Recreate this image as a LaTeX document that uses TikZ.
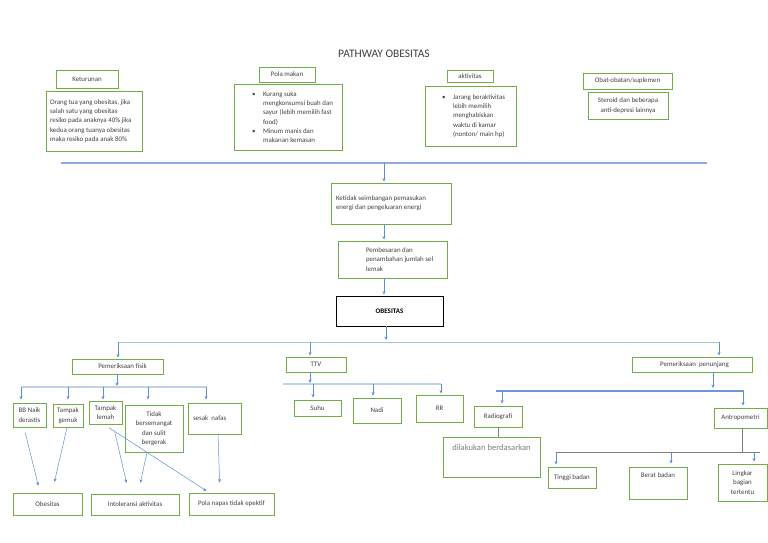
\documentclass[tikz,border=0pt]{standalone}
\usepackage{fontspec}
\setmainfont{Carlito}
\usetikzlibrary{arrows.meta}
\definecolor{gbord}{HTML}{70AD47}
\definecolor{txt}{HTML}{404040}
\definecolor{arrc}{HTML}{5B8FD6}
\definecolor{busl}{HTML}{8EAADB}
\definecolor{busp}{HTML}{A9C1E8}
\definecolor{busq}{HTML}{BDD0EE}
\definecolor{busd}{HTML}{6F94D8}
\definecolor{dgray}{HTML}{7F7F7F}
\newcommand{\bitem}{\par\hangindent=11pt\hangafter=1\noindent\makebox[11pt][l]{\textbullet}}
\begin{document}
\begin{tikzpicture}[x=1pt,y=-1pt,
  gbox/.style={draw=gbord,line width=0.9pt,rectangle,inner sep=0pt,text=txt,font=\fontsize{6.9}{9.5}\selectfont,align=center},
  lbox/.style={draw=gbord,line width=0.9pt,rectangle,inner sep=0pt,text=txt,font=\fontsize{6.9}{9.3}\selectfont},
  arr/.style={draw=arrc,line width=0.5pt,-{Stealth[length=3.5pt,width=3pt]}},
  thinl/.style={draw=dgray,line width=0.6pt}]
\fill[white] (0,0) rectangle (768,543);
\useasboundingbox (0,0) rectangle (768,543);

\node[text=txt,font=\fontsize{11.5}{13}\selectfont] (title) at (384,54) {PATHWAY OBESITAS};

% top row
\node[gbox,minimum width=62pt,minimum height=18pt] (ket) at (87,79) {Keturunan};
\node[lbox,minimum width=96pt,minimum height=60pt] (kett) at (94,121)
 {\makebox[96pt][l]{\hspace*{4pt}\parbox{91pt}{\raggedright Orang tua yang obesitas, jika\\ salah satu yang obesitas\\ resiko pada anaknya 40\% jika\\ kedua orang tuanya obesitas\\ maka resiko pada anak 80\%}}};

\node[gbox,minimum width=56pt,minimum height=15pt] (pola) at (287,74.5) {Pola makan};
\node[lbox,minimum width=108pt,minimum height=66pt] (polat) at (288,117)
 {\makebox[108pt][l]{\hspace*{18pt}\parbox{89pt}{\raggedright\bitem Kurang suka\newline mengkonsumsi buah dan\newline sayur (lebih memilih fast\newline food)\bitem Minum manis dan\newline makanan kemasan}}};

\node[gbox,minimum width=46pt,minimum height=12pt] (akt) at (470,76) {aktivitas};
\node[lbox,minimum width=91pt,minimum height=60pt] (aktt) at (470.5,116)
 {\makebox[91pt][l]{\hspace*{17pt}\parbox{73pt}{\raggedright\bitem Jarang beraktivitas\newline lebih memilih\newline menghabiskan\newline waktu di kamar\newline (nonton/ main hp)}}};

\node[gbox,minimum width=89pt,minimum height=16pt] (obat) at (627.5,81) {Obat-obatan/suplemen};
\node[gbox,minimum width=80pt,minimum height=27pt] (ster) at (628,105.5) {Steroid dan beberapa\\ anti-depresi lainnya};

% main bus
\coordinate (mbl) at (61,163);
\coordinate (mbr) at (707,163);
\draw[busl,line width=2pt] (mbl) -- (mbr);
\coordinate (m1) at (384,163);

% central chain
\node[lbox,minimum width=120pt,minimum height=41pt] (ketd) at (391,203.5)
 {\makebox[120pt][l]{\hspace*{5pt}\parbox{112pt}{\raggedright Ketidak seimbangan pemasukan\\ energi dan pengeluaran energi}}};
\node[lbox,minimum width=109pt,minimum height=37pt] (pemb) at (392.5,259.5)
 {\makebox[109pt][l]{\hspace*{28pt}\parbox{80pt}{\raggedright Pembesaran dan\\ penambahan jumlah sel\\ lemak}}};
\node[draw=black,line width=0.9pt,minimum width=107pt,minimum height=30pt,inner sep=0pt,font=\bfseries\fontsize{7}{8}\selectfont] (obes) at (389.5,311) {OBESITAS};

\draw[arr,shorten >=1pt] (m1) -- (m1 |- ketd.north);
\draw[arr,shorten >=1pt] (ketd.south -| m1) -- (pemb.north -| m1);
\draw[arr,shorten >=1pt] (pemb.south -| m1) -- (obes.north -| m1);
\coordinate (m2) at (386,342);
\draw[arr] (obes.south -| m2) -- ([yshift=2pt]m2);

% second bus
\coordinate (b2l) at (118,342);
\coordinate (b2t) at (310,342);
\coordinate (b2r) at (719,342);
\draw[busp,line width=0.8pt] (b2l) -- (b2r);

\node[gbox,minimum width=91pt,minimum height=15pt] (pemf) at (117.5,366.5) {\hspace*{10pt}Pemeriksaan fisik};
\node[gbox,minimum width=60pt,minimum height=15pt] (ttv) at (316,364.5) {TTV};
\node[gbox,minimum width=120pt,minimum height=15pt] (pemp) at (692,364.5) {\hspace*{5pt}Pemeriksaan\ \ penunjang};

\draw[arr,shorten >=1pt] (b2l) -- (b2l |- pemf.north);
\draw[arr,shorten >=1pt] (b2t) -- (b2t |- ttv.north);
\draw[arr,shorten >=1pt] (b2r) -- (b2r |- pemp.north);

% fisik branch
\coordinate (f0) at (117,387);
\draw[arr] (pemf.south -| f0) -- ([yshift=1pt]f0);
\coordinate (fbl) at (20.5,387);
\coordinate (fbr) at (206.5,387);
\draw[busq,line width=1.2pt] (fbl) -- (fbr);
\coordinate (f1) at (21,387);
\coordinate (f2) at (68,387);
\coordinate (f3) at (103,387);
\coordinate (f4) at (148,387);
\coordinate (f5) at (206,387);

\node[gbox,minimum width=33pt,minimum height=24pt] (bb) at (29.5,415) {BB Naik\\ derastis};
\node[gbox,minimum width=30pt,minimum height=23pt] (gem) at (68,415.5) {Tampak\\ gemuk};
\node[gbox,minimum width=33pt,minimum height=23pt] (lem) at (105.5,412.5) {Tampak\\ lemah};
\node[gbox,minimum width=58pt,minimum height=47pt] (tid) at (154,428.5) {Tidak\\ bersemangat\\ dan sulit\\ bergerak};
\node[lbox,minimum width=53pt,minimum height=31pt] (ses) at (214.5,418.5)
 {\makebox[53pt][l]{\hspace*{5pt}sesak\ \ nafas}};

\draw[arr,shorten >=3pt] (f1) -- (f1 |- bb.north);
\draw[arr,shorten >=4pt] (f2) -- (f2 |- gem.north);
\draw[arr,shorten >=1pt] (f3) -- (f3 |- lem.north);
\draw[arr,shorten >=5pt] (f4) -- (f4 |- tid.north);
\draw[arr,shorten >=3pt] (f5) -- (f5 |- ses.north);

\node[gbox,minimum width=69pt,minimum height=22pt] (obk) at (47.5,504) {Obesitas};
\node[gbox,minimum width=88pt,minimum height=21pt] (int) at (135,504.5) {Intoleransi aktivitas};
\node[gbox,minimum width=85pt,minimum height=22pt] (pnp) at (231.5,504) {Pola napas tidak epektif};

\draw[arr,shorten <=5pt,shorten >=7pt] ([xshift=-5.5pt]bb.south) -- ([xshift=-7.5pt]obk.north);
\draw[arr,shorten >=11pt] ([xshift=-1pt]gem.south) -- ([xshift=4.5pt]obk.north);
\draw[arr,shorten <=8pt,shorten >=11pt] ([xshift=7.5pt]lem.south) -- ([xshift=-6pt]int.north);
\draw[arr,shorten <=1pt,shorten >=11pt] ([xshift=-7pt]tid.south) -- ([xshift=3pt]int.north);
\draw[arr,shorten <=6pt,shorten >=3pt] ([xshift=-1.5pt]lem.south) -- ([xshift=-22.5pt]pnp.north);
\draw[arr,shorten <=1pt,shorten >=10pt] ([xshift=3.5pt]ses.south) -- ([xshift=-11.5pt]pnp.north);

% TTV branch
\coordinate (t0) at (310,384);
\draw[arr] (ttv.south -| t0) -- ([yshift=1pt]t0);
\coordinate (tbl) at (283,384);
\coordinate (tbr) at (441,384);
\draw[busq,line width=1.2pt] (tbl) -- (tbr);
\coordinate (t1) at (313,384);
\coordinate (t2) at (373,384);
\coordinate (t3) at (441,384);
\node[gbox,minimum width=47pt,minimum height=16pt] (suhu) at (317.5,408) {Suhu};
\node[gbox,minimum width=48pt,minimum height=25pt] (nadi) at (377,410.5) {Nadi};
\node[gbox,minimum width=47pt,minimum height=27pt] (rr) at (439.5,408.5) {RR};
\draw[arr,shorten >=2pt] (t1) -- (t1 |- suhu.north);
\draw[arr,shorten >=2pt] (t2) -- (t2 |- nadi.north);
\draw[arr,shorten >=1pt] (t3) -- (t3 |- rr.north);

% penunjang branch
\coordinate (p0) at (713,391);
\draw[arr] (pemp.south -| p0) -- ([yshift=3pt]p0);
\coordinate (pbl) at (496,391);
\coordinate (pbr) at (744,391);
\draw[busd,line width=1.3pt] (pbl) -- (pbr);
\coordinate (p1) at (502,391);
\coordinate (p2) at (743,391);
\node[gbox,minimum width=48pt,minimum height=21pt] (rad) at (498,416.5) {Radiografi};
\node[gbox,minimum width=53pt,minimum height=20pt] (ant) at (740.5,418) {Antropometri};
\draw[arr,shorten >=2pt] (p1) -- (p1 |- rad.north);
\draw[arr,shorten >=2pt] (p2) -- (p2 |- ant.north);

\node[draw=gbord,line width=0.9pt,inner xsep=0pt,inner ysep=4pt,text height=9pt,text depth=23pt,minimum width=97pt,text=dgray,font=\fontsize{8.6}{10}\selectfont,anchor=base] (dil) at (491.5,450) {dilakukan berdasarkan};
\draw[thinl] (rad.south) -- (rad.south |- dil.north);

\coordinate (a0) at (742,452);
\draw[thinl] (ant.south -| a0) -- (a0);
\coordinate (abl) at (556,452);
\coordinate (abr) at (760,452);
\draw[thinl] (abl) -- (abr);
\coordinate (a1) at (556,452);
\coordinate (a2) at (671,452);
\coordinate (a3) at (754,452);
\node[gbox,minimum width=48pt,minimum height=21pt] (tin) at (572,477.5) {Tinggi badan};
\node[draw=gbord,line width=0.9pt,inner xsep=0pt,inner ysep=4pt,text height=6pt,text depth=18pt,minimum width=58pt,text=txt,font=\fontsize{6.9}{9.4}\selectfont,anchor=base] (ber) at (658,477) {Berat badan};
\node[gbox,minimum width=49pt,minimum height=37pt] (lin) at (742.5,482.5) {Lingkar\\ bagian\\ tertentu};
\draw[arr,shorten >=2pt] (a1) -- (a1 |- tin.north);
\draw[arr,shorten >=3pt] (a2) -- (a2 |- ber.north);
\draw[arr,shorten >=2pt] (a3) -- (a3 |- lin.north);
\end{tikzpicture}
\end{document}
